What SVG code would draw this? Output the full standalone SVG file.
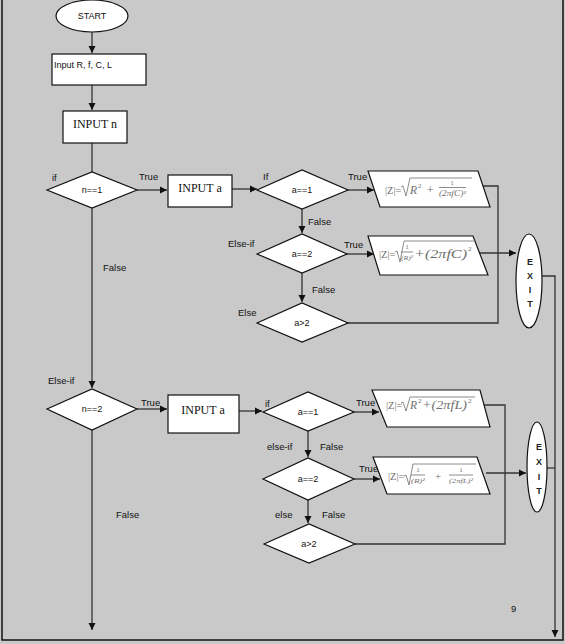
<svg xmlns="http://www.w3.org/2000/svg" width="565" height="644" viewBox="0 0 565 644">
<defs>
<marker id="ah" markerWidth="8" markerHeight="8" refX="7" refY="4" orient="auto" markerUnits="userSpaceOnUse">
<path d="M0,0.5 L7,4 L0,7.5 Z" fill="#111"/>
</marker>
<style>
.sh{fill:#fff;stroke:#111;stroke-width:1.2}
.ln{fill:none;stroke:#333;stroke-width:1.3}
.lbl{font-family:"Liberation Sans",Arial,sans-serif;font-size:9.5px;fill:#111}
.sm{font-family:"Liberation Sans",Arial,sans-serif;font-size:9px;fill:#111}
.ser{font-family:"Liberation Serif","Times New Roman",serif;font-size:12px;fill:#111}
.ex{font-family:"Liberation Sans",Arial,sans-serif;font-size:9px;font-weight:bold;fill:#222}
.f{font-family:"Liberation Serif","Times New Roman",serif;fill:#6f6f6f}
.fi{font-family:"Liberation Serif","Times New Roman",serif;font-style:italic;fill:#6f6f6f}
.vb{stroke:#6f6f6f;stroke-width:0.8;fill:none}
</style>
</defs>
<rect x="0" y="0" width="565" height="644" fill="#c9c9c9"/>
<path d="M2,0 V640 H563 V0" fill="none" stroke="#111" stroke-width="1.5"/>

<g id="connectors">
<line class="ln" x1="92" y1="32" x2="92" y2="53" marker-end="url(#ah)"/>
<line class="ln" x1="92" y1="85" x2="92" y2="110" marker-end="url(#ah)"/>
<line class="ln" x1="92" y1="143" x2="92" y2="172"/>
<line class="ln" x1="137" y1="190" x2="167" y2="190" marker-end="url(#ah)"/>
<line class="ln" x1="232" y1="189" x2="257" y2="189" marker-end="url(#ah)"/>
<line class="ln" x1="348" y1="190" x2="374" y2="190" marker-end="url(#ah)"/>
<line class="ln" x1="302" y1="209" x2="302" y2="233" marker-end="url(#ah)"/>
<line class="ln" x1="347" y1="254" x2="374" y2="254" marker-end="url(#ah)"/>
<line class="ln" x1="302" y1="273" x2="302" y2="302" marker-end="url(#ah)"/>
<polyline class="ln" points="483,186 498,186 498,323 348,323"/>
<line class="ln" x1="480" y1="253" x2="516" y2="253" marker-end="url(#ah)"/>
<polyline class="ln" points="542,276 555,276 555,637" marker-end="url(#ah)"/>
<line class="ln" x1="547" y1="468" x2="555" y2="468"/>
<line class="ln" x1="92" y1="208" x2="92" y2="388" marker-end="url(#ah)"/>
<line class="ln" x1="92" y1="430" x2="92" y2="630" marker-end="url(#ah)"/>
<line class="ln" x1="137" y1="409" x2="167" y2="409" marker-end="url(#ah)"/>
<line class="ln" x1="239" y1="411" x2="262" y2="411" marker-end="url(#ah)"/>
<line class="ln" x1="354" y1="412" x2="379" y2="412" marker-end="url(#ah)"/>
<line class="ln" x1="308" y1="431" x2="308" y2="457" marker-end="url(#ah)"/>
<line class="ln" x1="354" y1="479" x2="380" y2="479" marker-end="url(#ah)"/>
<line class="ln" x1="308" y1="500" x2="308" y2="523" marker-end="url(#ah)"/>
<polyline class="ln" points="484,405 505,405 505,544 355,544"/>
<line class="ln" x1="486" y1="473" x2="526" y2="473" marker-end="url(#ah)"/>
</g>

<g id="start"><ellipse class="sh" cx="92" cy="16" rx="36" ry="16"/><text class="sm" x="92" y="19" text-anchor="middle">START</text></g>
<g id="inputRfCL"><rect class="sh" x="52" y="54" width="94" height="31"/><text class="sm" x="54" y="68">Input R, f, C, L</text></g>
<g id="inputN"><rect class="sh" x="63" y="111" width="64" height="32"/><text class="ser" x="95" y="128" text-anchor="middle">INPUT n</text></g>

<g id="n1"><polygon class="sh" points="47,190 92,172 137,190 92,208"/><text class="sm" x="92" y="193" text-anchor="middle">n==1</text></g>
<g id="inputA1"><rect class="sh" x="168" y="175" width="64" height="32"/><text class="ser" x="200" y="192" text-anchor="middle">INPUT a</text></g>
<g id="a1"><polygon class="sh" points="257,190 302,170 348,190 302,209"/><text class="sm" x="302" y="193" text-anchor="middle">a==1</text></g>
<g id="a2"><polygon class="sh" points="257,254 302,234 347,254 302,273"/><text class="sm" x="302" y="257" text-anchor="middle">a==2</text></g>
<g id="a3"><polygon class="sh" points="257,323 302,303 348,323 302,342"/><text class="sm" x="302" y="326" text-anchor="middle">a&gt;2</text></g>

<g id="z1"><polygon class="sh" points="368,171 478,171 490,207 380,207"/>
<text class="f" x="385" y="194" font-size="10.5">|Z|=</text>
<polyline class="vb" points="401,187 403,186 406,196 410,178 472,178"/>
<text class="fi" x="410" y="194" font-size="11.5">R</text>
<text class="f" x="418" y="188" font-size="7">2</text>
<text class="f" x="427" y="194" font-size="11.5">+</text>
<text class="f" x="452" y="185" font-size="7" text-anchor="middle">1</text>
<line class="vb" x1="439" y1="187.5" x2="466" y2="187.5"/>
<text class="fi" x="439" y="196" font-size="7.5" textLength="27" lengthAdjust="spacingAndGlyphs">(2πfC)²</text>
</g>
<g id="z2"><polygon class="sh" points="368,236 473,236 488,275 380,275"/>
<text class="f" x="379" y="258" font-size="10.5">|Z|=</text>
<polyline class="vb" points="395,252 397,251 400,262 404,241 475,241"/>
<text class="f" x="407" y="249" font-size="7" text-anchor="middle">1</text>
<line class="vb" x1="401" y1="252" x2="413" y2="252"/>
<text class="fi" x="401" y="260" font-size="7" textLength="12" lengthAdjust="spacingAndGlyphs">(R)²</text>
<text class="fi" x="414" y="258" font-size="11.5" textLength="53" lengthAdjust="spacingAndGlyphs">+(2πfC)</text>
<text class="f" x="468" y="251" font-size="7">2</text>
</g>
<g id="z3"><polygon class="sh" points="372,390 480,390 490,427 387,427"/>
<text class="f" x="386" y="409" font-size="10.5">|Z|=</text>
<polyline class="vb" points="401,403 403,402 406,411 410,397 475,397"/>
<text class="fi" x="410" y="409" font-size="11.5">R</text>
<text class="f" x="418" y="403" font-size="7">2</text>
<text class="fi" x="422" y="409" font-size="11.5" textLength="45" lengthAdjust="spacingAndGlyphs">+(2πfL)</text>
<text class="f" x="468" y="403" font-size="7">2</text>
</g>
<g id="z4"><polygon class="sh" points="373,457 477,457 490,494 387,494"/>
<text class="f" x="388" y="480" font-size="10.5">|Z|=</text>
<polyline class="vb" points="404,476 406,475 409,485 413,464 476,464"/>
<text class="f" x="418" y="472" font-size="7" text-anchor="middle">1</text>
<line class="vb" x1="411" y1="475" x2="425" y2="475"/>
<text class="fi" x="411" y="483" font-size="7" textLength="14" lengthAdjust="spacingAndGlyphs">(R)²</text>
<text class="f" x="438" y="480" font-size="11" text-anchor="middle">+</text>
<text class="f" x="461" y="472" font-size="7" text-anchor="middle">1</text>
<line class="vb" x1="449" y1="475" x2="473" y2="475"/>
<text class="fi" x="449" y="483" font-size="7" textLength="24" lengthAdjust="spacingAndGlyphs">(2πfL)²</text>
</g>

<g id="exit1"><ellipse class="sh" cx="529" cy="281" rx="13" ry="47"/>
<text class="ex" x="530" y="265" text-anchor="middle">E</text><text class="ex" x="530" y="279" text-anchor="middle">X</text><text class="ex" x="530" y="293" text-anchor="middle">I</text><text class="ex" x="530" y="307" text-anchor="middle">T</text></g>

<g id="n2"><polygon class="sh" points="47,409 92,389 137,409 92,430"/><text class="sm" x="92" y="412" text-anchor="middle">n==2</text></g>
<g id="inputA2"><rect class="sh" x="168" y="395" width="71" height="38"/><text class="ser" x="203" y="414" text-anchor="middle">INPUT a</text></g>
<g id="b1"><polygon class="sh" points="263,412 308,392 354,412 308,431"/><text class="sm" x="308" y="415" text-anchor="middle">a==1</text></g>
<g id="b2"><polygon class="sh" points="263,479 308,458 354,479 308,500"/><text class="sm" x="308" y="482" text-anchor="middle">a==2</text></g>
<g id="b3"><polygon class="sh" points="264,544 309,524 355,544 309,563"/><text class="sm" x="309" y="547" text-anchor="middle">a&gt;2</text></g>

<g id="exit2"><ellipse class="sh" cx="537" cy="467" rx="10" ry="45"/>
<text class="ex" x="539" y="450" text-anchor="middle">E</text><text class="ex" x="539" y="465" text-anchor="middle">X</text><text class="ex" x="539" y="480" text-anchor="middle">I</text><text class="ex" x="539" y="494" text-anchor="middle">T</text></g>

<g id="labels">
<text class="lbl" x="52" y="181">if</text>
<text class="lbl" x="139" y="180">True</text>
<text class="lbl" x="263" y="180">If</text>
<text class="lbl" x="348" y="180">True</text>
<text class="lbl" x="308" y="225">False</text>
<text class="lbl" x="228" y="247">Else-if</text>
<text class="lbl" x="344" y="248">True</text>
<text class="lbl" x="312" y="293">False</text>
<text class="lbl" x="238" y="316">Else</text>
<text class="lbl" x="103" y="271">False</text>
<text class="lbl" x="48" y="384">Else-if</text>
<text class="lbl" x="141" y="406">True</text>
<text class="lbl" x="265" y="407">if</text>
<text class="lbl" x="356" y="406">True</text>
<text class="lbl" x="267" y="450">else-if</text>
<text class="lbl" x="320" y="450">False</text>
<text class="lbl" x="359" y="472">True</text>
<text class="lbl" x="275" y="518">else</text>
<text class="lbl" x="322" y="518">False</text>
<text class="lbl" x="116" y="518">False</text>
<text class="lbl" x="511" y="612">9</text>
</g>
</svg>
